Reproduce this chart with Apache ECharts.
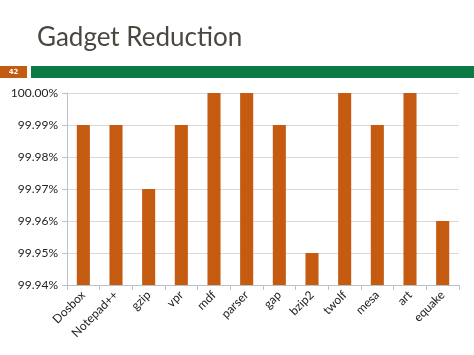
<!DOCTYPE html>
<html><head><meta charset="utf-8">
<script src="https://cdn.jsdelivr.net/npm/echarts@6/dist/echarts.min.js"></script>
<style>html,body{margin:0;padding:0;background:#fff}#c{width:474px;height:355px}</style>
</head><body><div id="c"></div>
<script>
const categories = ['Dosbox','Notepad++','gzip','vpr','mdf','parser','gap','bzip2','twolf','mesa','art','equake'];
const values = [99.99, 99.99, 99.97, 99.99, 100.00, 100.00, 99.99, 99.95, 100.00, 99.99, 100.00, 99.96];
const yMin = 99.94, yMax = 100.00, yStep = 0.01;
const titleText = 'Gadget Reduction';
const slideNum = '42';

const chart = echarts.init(document.getElementById('c'), null, {renderer:'canvas'});
chart.setOption({
  animation:false,
  graphic:[
    {type:'text', left:37, top:25, style:{text:titleText, font:'26px Lato, "DejaVu Sans", sans-serif', fill:'#4b4640'}},
    {type:'rect', shape:{x:0,y:66,width:27,height:12}, style:{fill:'#c55a11'}},
    {type:'text', x:13.5, y:72, style:{text:slideNum, font:'bold 7px "DejaVu Sans", sans-serif', fill:'#fff', align:'center', verticalAlign:'middle'}},
    {type:'rect', shape:{x:31,y:66,width:443,height:12}, style:{fill:'#0b7a45'}}
  ],
  grid:{left:67, right:15, top:93, bottom:70, containLabel:false},
  xAxis:{type:'category', data:categories,
    axisLine:{lineStyle:{color:'#b8c0cc'}},
    axisTick:{show:true, alignWithLabel:false, lineStyle:{color:'#b8c0cc'}},
    axisLabel:{rotate:45, color:'#222', fontSize:12, fontFamily:'Lato, "DejaVu Sans", sans-serif', interval:0, margin:8}},
  yAxis:{type:'value', min:yMin, max:yMax, interval:yStep,
    axisLine:{show:true, lineStyle:{color:'#b8c0cc'}},
    axisTick:{show:true, lineStyle:{color:'#b8c0cc'}},
    splitLine:{lineStyle:{color:'#d9d9d9'}},
    axisLabel:{color:'#222', fontSize:12, fontFamily:'Lato, "DejaVu Sans", sans-serif', margin:9, formatter:v=>v.toFixed(2)+'%'}},
  series:[{type:'bar', data:values, barWidth:'40%', itemStyle:{color:'#c55a11'}}]
});
</script></body></html>
